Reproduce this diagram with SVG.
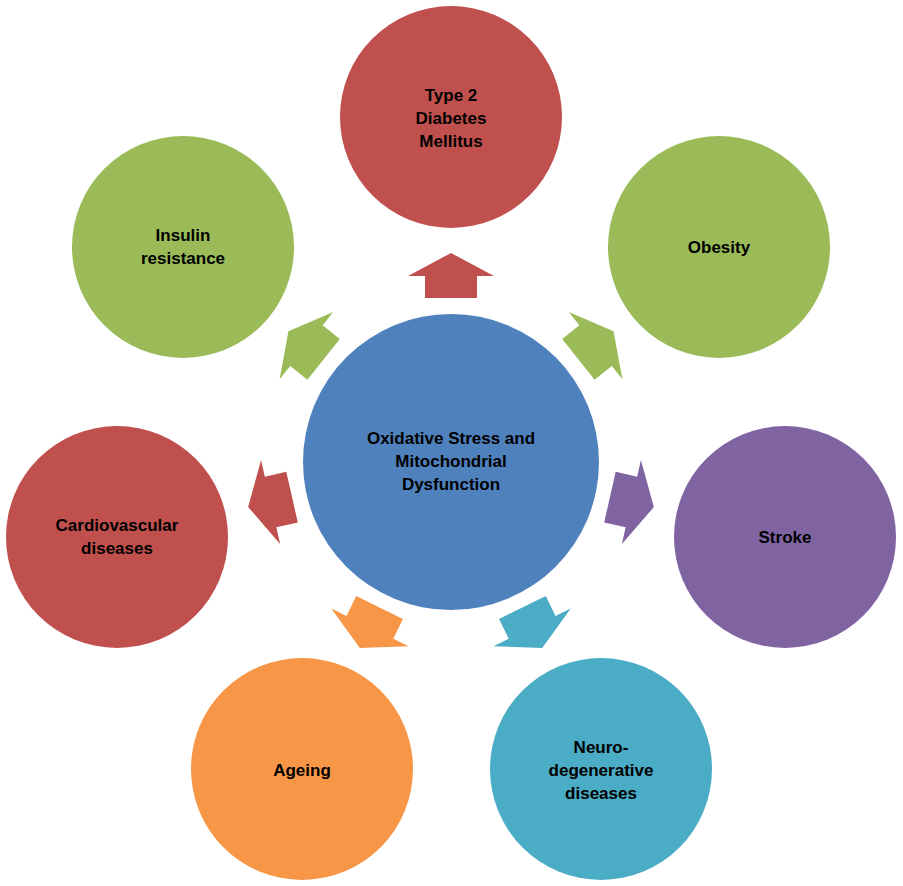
<svg xmlns="http://www.w3.org/2000/svg" width="903" height="886" viewBox="0 0 903 886">
<defs><style>
text{font-family:"Liberation Sans",Arial,sans-serif;font-weight:bold;font-size:17px;fill:#000;text-anchor:middle}
.r{fill:#C0504D}.g{fill:#9BBB59}.b{fill:#4F81BD}.p{fill:#8064A2}.a{fill:#4BACC6}.o{fill:#F79646}
</style>
<polygon id="arr" points="-26,-163 26,-163 26,-185 43,-185 0,-208 -43,-185 -26,-185"/>
</defs>
<rect width="903" height="886" fill="#fff"/>
<g id="connectors">
<use href="#arr" class="r" transform="translate(451,461)"/>
<use href="#arr" class="g" transform="translate(451,461) rotate(51.4)"/>
<use href="#arr" class="p" transform="translate(451,461) rotate(102.8)"/>
<use href="#arr" class="a" transform="translate(451,461) rotate(154)"/>
<use href="#arr" class="o" transform="translate(451,461) rotate(-154)"/>
<use href="#arr" class="r" transform="translate(451,461) rotate(-102.8)"/>
<use href="#arr" class="g" transform="translate(451,461) rotate(-51.4)"/>
</g>
<g id="center"><circle cx="451" cy="462" r="148" class="b"/><text x="451" y="444">Oxidative Stress and</text><text x="451" y="467">Mitochondrial</text><text x="451" y="490">Dysfunction</text></g>
<g id="t2dm"><circle cx="451" cy="117" r="111" class="r"/><text x="451" y="101">Type 2</text><text x="451" y="124">Diabetes</text><text x="451" y="147">Mellitus</text></g>
<g id="obesity"><circle cx="719" cy="247" r="111" class="g"/><text x="719" y="253">Obesity</text></g>
<g id="stroke"><circle cx="785" cy="537" r="111" class="p"/><text x="785" y="543">Stroke</text></g>
<g id="neuro"><circle cx="601" cy="769" r="111" class="a"/><text x="601" y="753">Neuro-</text><text x="601" y="776">degenerative</text><text x="601" y="799">diseases</text></g>
<g id="ageing"><circle cx="302" cy="769" r="111" class="o"/><text x="302" y="776">Ageing</text></g>
<g id="cardio"><circle cx="117" cy="537" r="111" class="r"/><text x="117" y="531">Cardiovascular</text><text x="117" y="554">diseases</text></g>
<g id="insulin"><circle cx="183" cy="247" r="111" class="g"/><text x="183" y="241">Insulin</text><text x="183" y="264">resistance</text></g>
</svg>
